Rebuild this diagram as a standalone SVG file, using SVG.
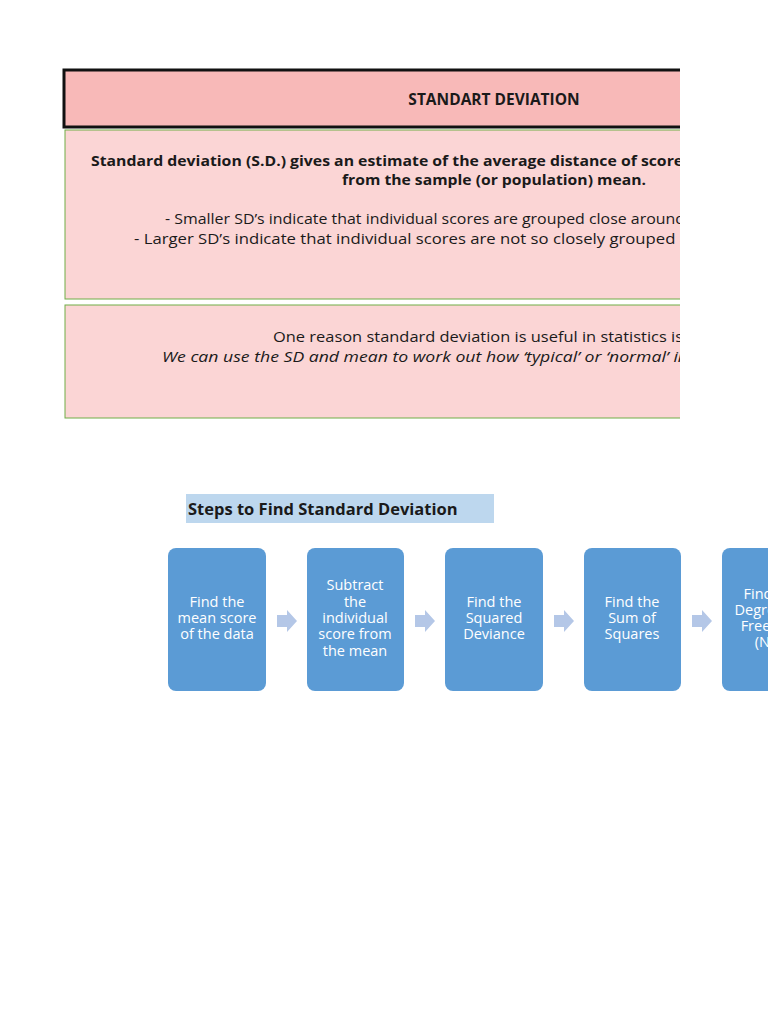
<svg xmlns="http://www.w3.org/2000/svg" width="768" height="1024" viewBox="0 0 768 1024">
<style>
.t{font-family:"Open Sans","Liberation Sans",sans-serif;fill:#1a1a1a}
.b{font-weight:bold}
.s{fill:#fff;font-family:"Open Sans","Liberation Sans",sans-serif;font-size:14.5px;text-anchor:middle}
.box{fill:#5b9bd5}
.arr{fill:#b4c7e7}
.pink{fill:#fbd5d5;stroke:#70ad47;stroke-width:1}
</style>
<defs>
<clipPath id="c"><rect x="0" y="0" width="680" height="1024"/></clipPath>
</defs>
<rect width="768" height="1024" fill="#fff"/>
<g clip-path="url(#c)">
<g id="header">
<rect x="64" y="70" width="640" height="57" fill="#f8b9b8" stroke="#111" stroke-width="3"/>
<text class="t b" x="494" y="105" font-size="15.5" text-anchor="middle">STANDART DEVIATION</text>
</g>
<g id="definition">
<rect class="pink" x="65" y="130" width="640" height="169"/>
<text class="t b" x="91" y="166" font-size="14.5" textLength="600" lengthAdjust="spacingAndGlyphs">Standard deviation (S.D.) gives an estimate of the average distance of scores</text>
<text class="t b" x="342" y="185" font-size="14.5" textLength="304" lengthAdjust="spacingAndGlyphs">from the sample (or population) mean.</text>
<text class="t" x="165" y="224" font-size="14.5" textLength="520" lengthAdjust="spacingAndGlyphs">- Smaller SD’s indicate that individual scores are grouped close around</text>
<text class="t" x="134" y="244" font-size="14.5" textLength="555" lengthAdjust="spacingAndGlyphs">- Larger SD’s indicate that  individual scores are not so closely grouped  a</text>
</g>
<g id="usefulness">
<rect class="pink" x="65" y="305" width="640" height="113"/>
<text class="t" x="273" y="342" font-size="14.5" textLength="410" lengthAdjust="spacingAndGlyphs">One reason standard deviation is useful in statistics is</text>
<text class="t" x="162" y="362" font-size="14.5" font-style="italic" textLength="526" lengthAdjust="spacingAndGlyphs">We can use the SD and mean to work out how ‘typical’ or ‘normal’ in</text>
</g>
</g>
<g id="steps-title">
<rect x="186" y="494" width="308" height="29" fill="#bdd7ee"/>
<text class="t b" x="188" y="515" font-size="16.5" fill="#111">Steps to Find Standard Deviation</text>
</g>
<g id="step1"><rect class="box" x="168" y="548" width="98" height="143" rx="8"/>
<text class="s" x="217" y="607">Find the</text><text class="s" x="217" y="623">mean score</text><text class="s" x="217" y="639">of the data</text></g>
<g id="step2"><rect class="box" x="307" y="548" width="97" height="143" rx="8"/>
<text class="s" x="355" y="590">Subtract</text><text class="s" x="355" y="607">the</text><text class="s" x="355" y="623">individual</text><text class="s" x="355" y="639">score from</text><text class="s" x="355" y="656">the mean</text></g>
<g id="step3"><rect class="box" x="445" y="548" width="98" height="143" rx="8"/>
<text class="s" x="494" y="607">Find the</text><text class="s" x="494" y="623">Squared</text><text class="s" x="494" y="639">Deviance</text></g>
<g id="step4"><rect class="box" x="584" y="548" width="97" height="143" rx="8"/>
<text class="s" x="632" y="607">Find the</text><text class="s" x="632" y="623">Sum of</text><text class="s" x="632" y="639">Squares</text></g>
<g id="step5"><rect class="box" x="722" y="548" width="98" height="143" rx="8"/>
<text class="s" x="771" y="599">Find the</text><text class="s" x="771" y="615">Degrees of</text><text class="s" x="771" y="631">Freedom</text><text class="s" x="771" y="647">(N-1)</text></g>
<g id="connectors">
<polygon class="arr" points="277,615 287,615 287,610 297,621 287,632 287,627 277,627"/>
<polygon class="arr" points="415,615 425,615 425,610 435,621 425,632 425,627 415,627"/>
<polygon class="arr" points="554,615 564,615 564,610 574,621 564,632 564,627 554,627"/>
<polygon class="arr" points="692,615 702,615 702,610 712,621 702,632 702,627 692,627"/>
</g>
</svg>
